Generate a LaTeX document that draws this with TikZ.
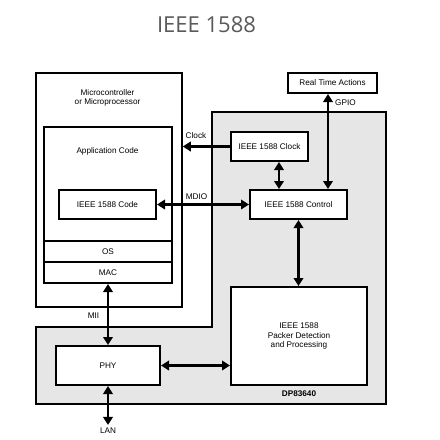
\documentclass[tikz,border=0pt]{standalone}
\usepackage{fontspec}
\setmainfont{Liberation Sans}
\newfontfamily\titlefont{Open Sans}
\usetikzlibrary{arrows.meta,calc}
\definecolor{titlegray}{HTML}{5A5A5A}
\definecolor{dpgray}{HTML}{E6E6E6}
\tikzset{
	blk/.style={draw, line width=2pt, fill=white, inner sep=0pt, font=\fontsize{8.2}{9.6}\selectfont, align=center},
	lbl/.style={inner sep=0pt, font=\fontsize{8.2}{9.6}\selectfont, align=center},
	link/.style={line width=2.8pt, {Triangle[length=8pt,width=9.5pt]}-{Triangle[length=8pt,width=9.5pt]}},
	onelink/.style={line width=2.8pt, -{Triangle[length=8pt,width=9.5pt]}}
}

\begin{document}
\begin{tikzpicture}[x=1pt,y=-1pt]
			%%%%% START %%%%%
			\useasboundingbox (0,0) rectangle (440,440);
			
			\node[font=\titlefont\fontsize{22}{26}\selectfont, text=titlegray] (title) at (206.5,25) {IEEE 1588};
			
			% DP83640 area
			\draw[line width=1.5pt, fill=dpgray] (212,112) -- (386,112) -- (386,404) -- (36,404) -- (36,327) -- (212,327) -- cycle;
			\node[lbl, font=\bfseries\fontsize{8.2}{9.6}\selectfont] (dp) at (299,394) {DP83640};
			
			% microcontroller side
			\node[draw, line width=1.5pt, fill=white, minimum width=146pt, minimum height=234pt] (mcu) at (109,190) {};
			\node[lbl] (mcutext) at (107.5,98) {Microcontroller\\or Microprocessor};
			\node[blk, minimum width=128pt, minimum height=156pt] (app) at (108,205) {};
			\node[lbl] (apptext) at (107.5,151) {Application Code};
			\node[blk, minimum width=97pt, minimum height=29pt] (code) at (107.5,204.5) {IEEE 1588 Code};
			\node[blk, minimum width=128pt, minimum height=21pt] (os) at (108,251.5) {OS};
			\node[blk, minimum width=128pt, minimum height=21pt] (mac) at (108,272.5) {MAC};
			
			% phyter blocks
			\node[blk, minimum width=89pt, minimum height=20pt] (rta) at (332.5,83) {Real Time Actions};
			\node[blk, minimum width=77pt, minimum height=29pt] (clk) at (269.5,146.5) {IEEE 1588 Clock};
			\node[blk, minimum width=97pt, minimum height=29pt] (ctl) at (298.5,204.5) {IEEE 1588 Control};
			\node[blk, minimum width=136pt, minimum height=98pt] (pkt) at (299,336) {IEEE 1588\\Packer Detection\\and Processing};
			\node[blk, minimum width=104pt, minimum height=39pt] (phy) at (108,365.5) {PHY};
			
			\coordinate (gpiox) at (328,0);
			\coordinate (clkx) at (279,0);
			
			% links
			\draw[onelink] (clk.west) -- (clk.west -| mcu.east);
			\node[lbl] (clocklbl) at (196,136) {Clock};
			\draw[link] (code.east) -- (ctl.west);
			\node[lbl] (mdiolbl) at (196.5,197) {MDIO};
			\draw[link] (rta.south -| gpiox) -- (ctl.north -| gpiox);
			\node[lbl] (gpiolbl) at (345.5,103) {GPIO};
			\draw[link] (clk.south -| clkx) -- (ctl.north -| clkx);
			\draw[link] (ctl.south) -- (ctl.south |- pkt.north);
			\draw[link] (mac.south) -- (phy.north);
			\node[lbl] (miilbl) at (93.5,316) {MII};
			\draw[link] (phy.east) -- (phy.east -| pkt.west);
			\node[lbl] (lan) at (108,431) {LAN};
			\draw[link] (phy.south) -- ($(lan.north)+(0,-3)$);
			
			%%%%% END %%%%%
\end{tikzpicture}
\end{document}
